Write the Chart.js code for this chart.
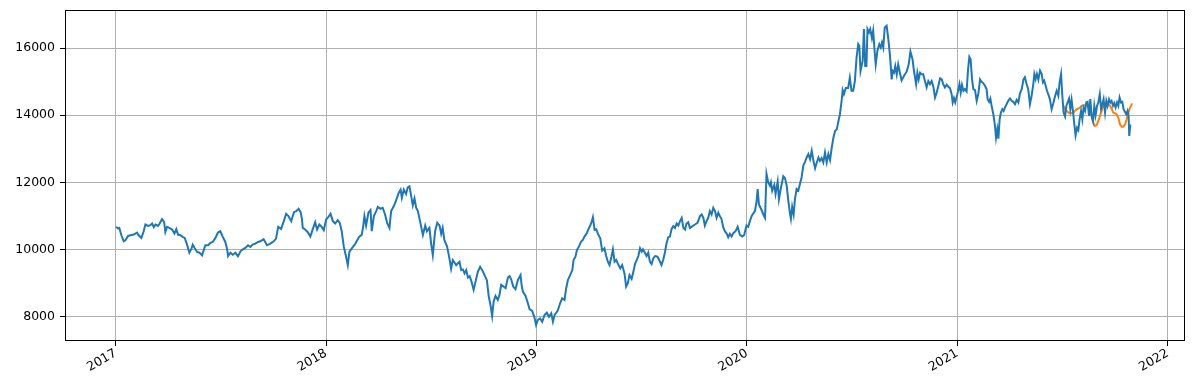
<!DOCTYPE html>
<html>
<head>
<meta charset="utf-8">
<script src="https://cdn.jsdelivr.net/npm/chart.js@4"></script>
<style>
  html, body { margin: 0; padding: 0; background: #fff; }
  #wrap { width: 1194px; height: 392px; }
</style>
</head>
<body>
<div id="wrap"><canvas id="chart" width="1194" height="392"></canvas></div>
<script>
// Blue series: time in decimal years, value
const BLUE_T = [
  2017.002, 2017.011, 2017.017, 2017.027, 2017.038, 2017.046, 2017.059, 2017.070, 2017.086, 2017.101,
  2017.109, 2017.122, 2017.133, 2017.141, 2017.154, 2017.165, 2017.173, 2017.181, 2017.189, 2017.201,
  2017.209, 2017.220, 2017.230, 2017.236, 2017.244, 2017.255, 2017.268, 2017.279, 2017.288, 2017.296,
  2017.307, 2017.318, 2017.328, 2017.339, 2017.350, 2017.360, 2017.366, 2017.375, 2017.387, 2017.398,
  2017.410, 2017.418, 2017.426, 2017.439, 2017.450, 2017.461, 2017.474, 2017.486, 2017.497, 2017.509,
  2017.521, 2017.529, 2017.534, 2017.545, 2017.556, 2017.569, 2017.581, 2017.593, 2017.604, 2017.616,
  2017.629, 2017.640, 2017.651, 2017.664, 2017.676, 2017.688, 2017.703, 2017.719, 2017.735, 2017.751,
  2017.762, 2017.772,
  2017.786, 2017.799, 2017.810, 2017.821, 2017.834, 2017.847, 2017.858, 2017.869, 2017.879, 2017.885,
  2017.889, 2017.900, 2017.913, 2017.925, 2017.937, 2017.948, 2017.957, 2017.968, 2017.979, 2017.989,
  2018.000, 2018.011, 2018.021, 2018.032, 2018.043, 2018.055, 2018.065, 2018.074, 2018.084, 2018.095,
  2018.103, 2018.111, 2018.122, 2018.135, 2018.147, 2018.158, 2018.169, 2018.176, 2018.182, 2018.190,
  2018.201, 2018.211, 2018.217, 2018.227, 2018.238, 2018.246, 2018.258, 2018.269, 2018.280, 2018.290,
  2018.301, 2018.309, 2018.322, 2018.333, 2018.345, 2018.354, 2018.360, 2018.369, 2018.380, 2018.388,
  2018.396, 2018.404, 2018.412, 2018.420, 2018.428, 2018.436, 2018.448, 2018.460, 2018.471, 2018.479,
  2018.491, 2018.499, 2018.507, 2018.518, 2018.528, 2018.539, 2018.547, 2018.554, 2018.562, 2018.575,
  2018.586, 2018.594, 2018.602, 2018.618,
  2018.634, 2018.642, 2018.650, 2018.658, 2018.666, 2018.674, 2018.682, 2018.690, 2018.701, 2018.710,
  2018.721, 2018.732, 2018.742, 2018.753, 2018.764, 2018.773, 2018.781, 2018.789, 2018.796, 2018.805,
  2018.816, 2018.824, 2018.832, 2018.843, 2018.853, 2018.864, 2018.872, 2018.880, 2018.889, 2018.900,
  2018.911, 2018.924, 2018.929, 2018.935, 2018.948, 2018.959, 2018.967, 2018.979, 2018.990, 2018.998,
  2019.006, 2019.017, 2019.027, 2019.038, 2019.049, 2019.059, 2019.070, 2019.078, 2019.086, 2019.101,
  2019.112, 2019.122, 2019.133, 2019.141, 2019.149, 2019.160, 2019.170, 2019.176, 2019.185, 2019.192,
  2019.201, 2019.212, 2019.220, 2019.228, 2019.239, 2019.249, 2019.260, 2019.268, 2019.276, 2019.284,
  2019.292, 2019.303, 2019.312, 2019.323, 2019.331, 2019.339, 2019.347, 2019.356, 2019.363, 2019.371,
  2019.379, 2019.386, 2019.398, 2019.407, 2019.418, 2019.426, 2019.434, 2019.442,
  2019.452, 2019.460, 2019.468, 2019.476, 2019.484, 2019.492, 2019.500, 2019.506, 2019.515, 2019.523,
  2019.531, 2019.539, 2019.547, 2019.555, 2019.563, 2019.575, 2019.587, 2019.594, 2019.602, 2019.610,
  2019.618, 2019.626, 2019.634, 2019.642, 2019.650, 2019.658, 2019.666, 2019.674, 2019.682, 2019.690,
  2019.698, 2019.706, 2019.713, 2019.721, 2019.729, 2019.737, 2019.745, 2019.753, 2019.765, 2019.777,
  2019.785, 2019.793, 2019.800, 2019.808, 2019.816, 2019.824, 2019.832, 2019.840, 2019.848, 2019.856,
  2019.864, 2019.871, 2019.879, 2019.887, 2019.895, 2019.903, 2019.911, 2019.919, 2019.927, 2019.935,
  2019.946, 2019.956, 2019.967, 2019.978, 2019.987, 2019.998, 2020.006, 2020.014, 2020.022, 2020.030,
  2020.038, 2020.046, 2020.051, 2020.057, 2020.067, 2020.078, 2020.086, 2020.093, 2020.101, 2020.109,
  2020.114, 2020.120, 2020.130, 2020.136, 2020.146, 2020.152, 2020.162, 2020.173, 2020.181, 2020.189,
  2020.196, 2020.204, 2020.209, 2020.215, 2020.222, 2020.228, 2020.236, 2020.244, 2020.252, 2020.260,
  2020.268, 2020.276,
  2020.284, 2020.292, 2020.300, 2020.308, 2020.316, 2020.324, 2020.332, 2020.340, 2020.347, 2020.355,
  2020.363, 2020.371, 2020.379, 2020.387, 2020.395, 2020.403, 2020.411, 2020.419, 2020.427, 2020.435,
  2020.442, 2020.450, 2020.455, 2020.461, 2020.470, 2020.481, 2020.489, 2020.497, 2020.505, 2020.513,
  2020.521, 2020.529, 2020.534, 2020.540, 2020.550, 2020.556, 2020.562, 2020.568, 2020.573, 2020.580,
  2020.586, 2020.594, 2020.600, 2020.608, 2020.612, 2020.620, 2020.629, 2020.636, 2020.642, 2020.648,
  2020.655, 2020.664, 2020.672, 2020.680, 2020.688, 2020.693, 2020.699, 2020.705, 2020.712, 2020.719,
  2020.727, 2020.735, 2020.746, 2020.759, 2020.769, 2020.777, 2020.787, 2020.794, 2020.804, 2020.810,
  2020.816, 2020.823, 2020.830, 2020.838, 2020.846, 2020.854, 2020.862, 2020.870, 2020.878, 2020.886,
  2020.894, 2020.902, 2020.910, 2020.918, 2020.926, 2020.933, 2020.941, 2020.949, 2020.957, 2020.965,
  2020.973, 2020.978, 2020.984, 2020.990, 2021.000, 2021.010, 2021.016, 2021.022, 2021.029, 2021.036,
  2021.044, 2021.051, 2021.057, 2021.063, 2021.070, 2021.076, 2021.084, 2021.092, 2021.100, 2021.108,
  2021.115, 2021.123, 2021.131, 2021.139, 2021.144, 2021.151, 2021.157, 2021.163, 2021.171, 2021.179,
  2021.184, 2021.190, 2021.195, 2021.201, 2021.207, 2021.214, 2021.220, 2021.226, 2021.234, 2021.242,
  2021.250, 2021.258, 2021.266, 2021.274, 2021.282, 2021.290, 2021.298, 2021.306, 2021.314, 2021.321,
  2021.329, 2021.337, 2021.345, 2021.353, 2021.361, 2021.366, 2021.372, 2021.378, 2021.385, 2021.393,
  2021.401, 2021.407, 2021.413, 2021.420, 2021.426, 2021.432, 2021.440, 2021.448, 2021.456, 2021.464,
  2021.472, 2021.480, 2021.486, 2021.493, 2021.499, 2021.505, 2021.512, 2021.518, 2021.524, 2021.531,
  2021.537, 2021.543, 2021.550, 2021.556, 2021.562, 2021.569, 2021.575, 2021.581, 2021.588, 2021.594,
  2021.600, 2021.607, 2021.613, 2021.619, 2021.626, 2021.632, 2021.638, 2021.645, 2021.651, 2021.657,
  2021.664, 2021.670, 2021.677, 2021.683, 2021.689, 2021.695, 2021.702, 2021.708, 2021.714, 2021.721,
  2021.727, 2021.733, 2021.740, 2021.746, 2021.752, 2021.759, 2021.765, 2021.771, 2021.778, 2021.784,
  2021.790, 2021.797, 2021.803, 2021.809, 2021.814, 2021.817, 2021.822
];
const BLUE_V = [
  10670, 10620, 10640, 10420, 10240, 10270, 10400, 10420, 10440, 10500,
  10420, 10340, 10540, 10740, 10700, 10720, 10770, 10660, 10740, 10700,
  10770, 10900, 10820, 10520, 10670, 10640, 10590, 10470, 10600, 10440,
  10420, 10370, 10340, 10140, 9900, 10020, 10140, 10040, 9920, 9900,
  9820, 9970, 10120, 10120, 10190, 10220, 10340, 10500, 10540, 10370,
  10220, 10020, 9800, 9900, 9840, 9900, 9790, 9940, 10000, 10040,
  10120, 10070, 10140, 10170, 10220, 10240, 10300, 10120, 10170, 10240,
  10320, 10670,
  10610, 10840, 11060, 10990, 10840, 11110, 11140, 11210, 11110, 10910,
  10640, 10590, 10510, 10380, 10610, 10810, 10590, 10740, 10670, 10570,
  10890, 10970, 11060, 10840, 10770, 10870, 10790, 10540, 10080, 9780,
  9530, 9930, 10030, 10130, 10260, 10380, 10430, 10670, 10990, 10710,
  11090, 11170, 10540, 10990, 11140, 11270, 11210, 11240, 11040, 10790,
  10640, 11140, 11290, 11470, 11680, 11780, 11540, 11780, 11650, 11850,
  11880, 11600, 11310, 11520, 11240, 11140, 10790, 10430, 10710, 10540,
  10640, 10180, 9830, 10540, 10790, 10710, 10460, 10640, 10280, 10080,
  9730, 9420, 9680, 9530,
  9630, 9380, 9400, 9280, 9380, 9160, 9200, 9060, 8790, 9030,
  9330, 9480, 9380, 9230, 9080, 8590, 8340, 8010, 8440, 8610,
  8490, 8640, 8940, 8890, 8840, 9160, 9200, 9100, 8890, 8810,
  9080, 9230, 8940, 8740, 8610, 8390, 8210, 8170, 7970, 7740,
  7890, 7940, 7840, 8040, 8110, 7990, 8090, 7840, 8040, 8170,
  8390, 8540, 8490, 8840, 9080, 9230, 9380, 9680, 9780, 9980,
  10080, 10230, 10280, 10380, 10480, 10630, 10780, 10960, 10580, 10600,
  10460, 10330, 9960, 10030, 9800, 9630, 9530, 9780, 10000, 9630,
  9680, 9580, 9430, 9530, 9280, 8890, 8990, 9230,
  9120, 9320, 9560, 9680, 9800, 10030, 9930, 10000, 9900, 9800,
  9900, 9630, 9560, 9730, 9800, 9780, 9630, 9530, 9680, 9900,
  10180, 10360, 10380, 10610, 10690, 10640, 10770, 10710, 10840, 10940,
  10640, 10590, 10770, 10810, 10640, 10670, 10710, 10740, 10790, 10990,
  11040, 10940, 10710, 10840, 10940, 11140, 11040, 11240, 11140, 10940,
  11090, 10990, 10910, 10670, 10540, 10480, 10360, 10460, 10380, 10480,
  10540, 10670, 10430, 10380, 10430, 10710, 10670, 10840, 10990, 11070,
  11140, 11440, 11800, 11340, 11210, 11040, 10940, 12250, 12000, 11900,
  12000, 11750, 11920, 11650, 12020, 11490, 11850, 12180, 12120, 11900,
  11490, 11090, 10910, 11270, 11040, 11490, 11800, 11750, 11950, 12150,
  12500, 12610,
  12740, 12840, 12690, 12940, 12640, 12420, 12590, 12740, 12640, 12720,
  12590, 12890, 12590, 12840, 12660, 13030, 13330, 13530, 13580, 13830,
  14030, 14430, 14750, 14630, 14810, 14810, 15120, 14730, 14730, 15020,
  15720, 16120, 16070, 15320, 15620, 16570, 15470, 15470, 16570, 16470,
  16570, 16300, 16520, 15820, 15520, 15920, 16120, 16020, 16170, 16020,
  16620, 16670, 16270, 15770, 15070, 15320, 15270, 15470, 15220, 15520,
  15270, 15040, 15170, 15300, 15520, 15900, 15670, 15320, 14930, 15270,
  15070, 15270, 15220, 15220, 15020, 14830, 15020, 14930, 15020, 14850,
  14530, 14680, 14880, 15100, 15070, 14930, 14830, 14910, 14850, 14810,
  14630, 14380, 14510, 14380, 14630, 14930, 14680, 14910, 14730, 14780,
  14710, 15370, 15740, 15670, 15070, 14780, 14750, 14430, 14650, 15070,
  15000, 14960, 14880, 14780, 14480, 14400, 14500, 14280, 14030, 13680,
  13330, 13580, 13300, 13880, 14080, 14180, 14130, 14230, 14330, 14430,
  14500, 14430, 14400, 14330, 14460, 14380, 14660, 14780, 15060, 15130,
  14930, 14780, 14330, 14580, 14930, 15230, 15080, 15230, 15060, 15330,
  15230, 14980, 15030, 14880, 14730, 14630, 14480, 14180, 14360, 14560,
  14730, 14580, 14980, 15230, 14580, 14080, 13960, 14280, 14380, 14500,
  14180, 14460, 14100, 13730, 13400, 13630, 13560, 13880, 14130, 13880,
  14230, 14130, 14380, 14400, 13980, 14480, 14000, 13830, 14280, 14000,
  14280, 14380, 14630, 14200, 14330, 14480, 14080, 14430, 14280, 14480,
  14380, 14430, 14280, 14360, 14230, 14380, 14280, 14530, 14380, 14400,
  14180, 14100, 14030, 14130, 13980, 13380, 13730
];

// Orange series (smoothed, last months)
const ORANGE_T = [
  2021.505, 2021.512, 2021.520, 2021.528, 2021.535, 2021.543, 2021.551, 2021.559, 2021.567, 2021.575,
  2021.583, 2021.591, 2021.599, 2021.607, 2021.614, 2021.622, 2021.630, 2021.638, 2021.646, 2021.654,
  2021.662, 2021.670, 2021.678, 2021.686, 2021.694, 2021.702, 2021.710, 2021.718, 2021.726, 2021.733,
  2021.741, 2021.749, 2021.757, 2021.765, 2021.773, 2021.781, 2021.789, 2021.797, 2021.805, 2021.813,
  2021.821, 2021.829, 2021.833
];
const ORANGE_V = [
  14280, 14180, 14130, 14080, 14060, 14060, 14080, 14130, 14180, 14200,
  14230, 14280, 14300, 14300, 14330, 14280, 14130, 13960, 13780, 13680,
  13700, 13830, 13980, 14130, 14280, 14350, 14360, 14330, 14280, 14200,
  14080, 14060, 14030, 13930, 13730, 13660, 13660, 13730, 13880, 14080,
  14230, 14330, 14330
];

const YEAR_TICKS = [2017, 2018, 2019, 2020, 2021, 2022];
const VALUE_TICKS = [8000, 10000, 12000, 14000, 16000];

const X_MIN = 2016.759;
const X_MAX = 2022.082;
const Y_MIN = 7265;
const Y_MAX = 17140;

function toPoints(ts, vs) {
  return ts.map((t, i) => ({ x: t, y: vs[i] }));
}

// draws the full black frame round the plot area
const framePlugin = {
  id: 'frame',
  afterDraw(chart) {
    const { ctx, chartArea: a } = chart;
    ctx.save();
    ctx.strokeStyle = '#000';
    ctx.lineWidth = 1;
    ctx.strokeRect(Math.round(a.left) + 0.5, Math.round(a.top) + 0.5,
      Math.round(a.right - a.left) - 1, Math.round(a.bottom - a.top) - 1);
    ctx.restore();
  }
};

const tickFont = { family: "'DejaVu Sans', sans-serif", size: 12.5 };

new Chart(document.getElementById('chart'), {
  type: 'line',
  data: {
    datasets: [
      {
        data: toPoints(BLUE_T, BLUE_V),
        borderColor: '#1f77b4',
        borderWidth: 2,
        pointRadius: 0,
        tension: 0,
        fill: false
      },
      {
        data: toPoints(ORANGE_T, ORANGE_V),
        borderColor: '#ff7f0e',
        borderWidth: 2,
        pointRadius: 0,
        tension: 0,
        fill: false
      }
    ]
  },
  options: {
    responsive: false,
    animation: false,
    events: [],
    layout: { padding: { top: 10, right: 9, left: 0, bottom: 0 } },
    plugins: {
      legend: { display: false },
      tooltip: { enabled: false }
    },
    scales: {
      x: {
        type: 'linear',
        min: X_MIN,
        max: X_MAX,
        afterBuildTicks: scale => { scale.ticks = YEAR_TICKS.map(v => ({ value: v })); },
        afterFit: scale => {
          scale.height = 51;
          scale.paddingLeft = 0;
          scale.paddingRight = 0;
        },
        ticks: {
          autoSkip: false,
          minRotation: 30,
          maxRotation: 30,
          color: '#000',
          font: tickFont,
          padding: 0,
          callback: v => String(v)
        },
        grid: { color: '#b0b0b0', lineWidth: 1, tickColor: '#000', tickLength: 5 },
        border: { display: false }
      },
      y: {
        type: 'linear',
        min: Y_MIN,
        max: Y_MAX,
        afterBuildTicks: scale => { scale.ticks = VALUE_TICKS.map(v => ({ value: v })); },
        afterFit: scale => {
          scale.width = 65;
          scale.paddingTop = 0;
          scale.paddingBottom = 0;
        },
        ticks: {
          color: '#000',
          font: tickFont,
          padding: 5,
          callback: v => String(v)
        },
        grid: { color: '#b0b0b0', lineWidth: 1, tickColor: '#000', tickLength: 5 },
        border: { display: false }
      }
    }
  },
  plugins: [framePlugin]
});
</script>
</body>
</html>
